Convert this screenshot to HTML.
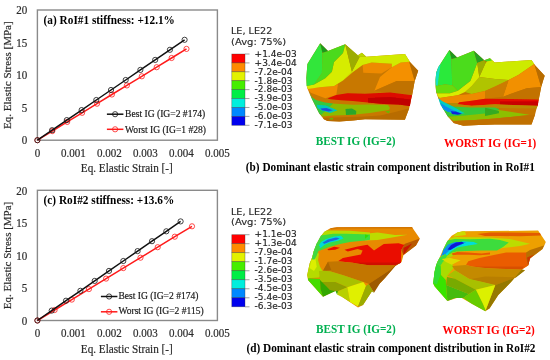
<!DOCTYPE html>
<html><head><meta charset="utf-8"><style>
html,body{margin:0;padding:0;background:#fff;}
svg{display:block;}
.tk{font-family:"Liberation Serif",serif;font-size:12.4px;fill:#2b2b2b;stroke:#2b2b2b;stroke-width:0.2px;}
.al{font-family:"Liberation Serif",serif;font-size:11px;fill:#2b2b2b;stroke:#2b2b2b;stroke-width:0.2px;}
.al2{font-family:"Liberation Serif",serif;font-size:12.4px;fill:#2b2b2b;stroke:#2b2b2b;stroke-width:0.2px;}
.ti{font-family:"Liberation Serif",serif;font-size:12.4px;font-weight:bold;fill:#000;}
.lg{font-family:"Liberation Serif",serif;font-size:10.3px;fill:#1a1a1a;stroke:#1a1a1a;stroke-width:0.2px;}
.cb{font-family:"DejaVu Sans",sans-serif;font-size:9.2px;fill:#2a2a2a;stroke:#2a2a2a;stroke-width:0.15px;}
.cbl{font-family:"DejaVu Sans",sans-serif;font-size:9px;fill:#222;stroke:#222;stroke-width:0.15px;}
.bg{font-family:"Liberation Serif",serif;font-size:12.4px;font-weight:bold;fill:#00b050;}
.wr{font-family:"Liberation Serif",serif;font-size:12.4px;font-weight:bold;fill:#ff0000;}
.cp{font-family:"Liberation Serif",serif;font-size:12.4px;font-weight:bold;fill:#000;}
</style></head><body>
<svg width="550" height="360" viewBox="0 0 550 360">
<rect width="550" height="360" fill="#fff"/>
<rect x="37.4" y="10.0" width="180.0" height="130.2" fill="none" stroke="#8a8a8a" stroke-width="1.4"/>
<text transform="translate(27.20,144.40) scale(0.89,1)" text-anchor="end" class="tk">0</text>
<text transform="translate(27.20,111.85) scale(0.89,1)" text-anchor="end" class="tk">5</text>
<text transform="translate(27.20,79.30) scale(0.89,1)" text-anchor="end" class="tk">10</text>
<text transform="translate(27.20,46.75) scale(0.89,1)" text-anchor="end" class="tk">15</text>
<text transform="translate(27.20,14.20) scale(0.89,1)" text-anchor="end" class="tk">20</text>
<text transform="translate(37.40,157.00) scale(0.89,1)" text-anchor="middle" class="tk">0</text>
<text transform="translate(73.40,157.00) scale(0.89,1)" text-anchor="middle" class="tk">0.001</text>
<text transform="translate(109.40,157.00) scale(0.89,1)" text-anchor="middle" class="tk">0.002</text>
<text transform="translate(145.40,157.00) scale(0.89,1)" text-anchor="middle" class="tk">0.003</text>
<text transform="translate(181.40,157.00) scale(0.89,1)" text-anchor="middle" class="tk">0.004</text>
<text transform="translate(217.40,157.00) scale(0.89,1)" text-anchor="middle" class="tk">0.005</text>
<text transform="translate(11.1,75.2) rotate(-90)" text-anchor="middle" class="al">Eq. Elastic Stress [MPa]</text>
<text transform="translate(126.80,172.40) scale(0.903,1)" text-anchor="middle" class="al2">Eq. Elastic Strain [-]</text>
<text transform="translate(43.60,24.00) scale(0.911,1)" class="ti">(a) RoI#1 stiffness: +12.1%</text>
<polyline points="37.4,140.2 52.3,131.1 67.2,121.9 82.1,112.8 97.0,103.7 111.9,94.5 126.9,85.4 141.8,76.3 156.7,67.2 171.6,58.0 186.5,48.9" fill="none" stroke="#ff1a1a" stroke-width="1.5"/>
<circle cx="37.4" cy="140.2" r="2.6" fill="none" stroke="#ff1a1a" stroke-width="0.8"/>
<circle cx="52.3" cy="131.1" r="2.6" fill="none" stroke="#ff1a1a" stroke-width="0.8"/>
<circle cx="67.2" cy="121.9" r="2.6" fill="none" stroke="#ff1a1a" stroke-width="0.8"/>
<circle cx="82.1" cy="112.8" r="2.6" fill="none" stroke="#ff1a1a" stroke-width="0.8"/>
<circle cx="97.0" cy="103.7" r="2.6" fill="none" stroke="#ff1a1a" stroke-width="0.8"/>
<circle cx="111.9" cy="94.5" r="2.6" fill="none" stroke="#ff1a1a" stroke-width="0.8"/>
<circle cx="126.9" cy="85.4" r="2.6" fill="none" stroke="#ff1a1a" stroke-width="0.8"/>
<circle cx="141.8" cy="76.3" r="2.6" fill="none" stroke="#ff1a1a" stroke-width="0.8"/>
<circle cx="156.7" cy="67.2" r="2.6" fill="none" stroke="#ff1a1a" stroke-width="0.8"/>
<circle cx="171.6" cy="58.0" r="2.6" fill="none" stroke="#ff1a1a" stroke-width="0.8"/>
<circle cx="186.5" cy="48.9" r="2.6" fill="none" stroke="#ff1a1a" stroke-width="0.8"/>
<polyline points="37.4,140.2 52.1,130.2 66.8,120.1 81.6,110.1 96.3,100.0 111.0,90.0 125.7,80.0 140.4,69.9 155.2,59.9 169.9,49.8 184.6,39.8" fill="none" stroke="#111" stroke-width="1.5"/>
<circle cx="37.4" cy="140.2" r="2.6" fill="none" stroke="#111" stroke-width="0.8"/>
<circle cx="52.1" cy="130.2" r="2.6" fill="none" stroke="#111" stroke-width="0.8"/>
<circle cx="66.8" cy="120.1" r="2.6" fill="none" stroke="#111" stroke-width="0.8"/>
<circle cx="81.6" cy="110.1" r="2.6" fill="none" stroke="#111" stroke-width="0.8"/>
<circle cx="96.3" cy="100.0" r="2.6" fill="none" stroke="#111" stroke-width="0.8"/>
<circle cx="111.0" cy="90.0" r="2.6" fill="none" stroke="#111" stroke-width="0.8"/>
<circle cx="125.7" cy="80.0" r="2.6" fill="none" stroke="#111" stroke-width="0.8"/>
<circle cx="140.4" cy="69.9" r="2.6" fill="none" stroke="#111" stroke-width="0.8"/>
<circle cx="155.2" cy="59.9" r="2.6" fill="none" stroke="#111" stroke-width="0.8"/>
<circle cx="169.9" cy="49.8" r="2.6" fill="none" stroke="#111" stroke-width="0.8"/>
<circle cx="184.6" cy="39.8" r="2.6" fill="none" stroke="#111" stroke-width="0.8"/>
<line x1="106.9" y1="114.2" x2="123.4" y2="114.2" stroke="#111" stroke-width="1.5"/>
<circle cx="115.10000000000001" cy="114.2" r="2.6" fill="none" stroke="#111" stroke-width="0.8"/>
<line x1="106.9" y1="129.3" x2="123.4" y2="129.3" stroke="#ff1a1a" stroke-width="1.5"/>
<circle cx="115.10000000000001" cy="129.3" r="2.6" fill="none" stroke="#ff1a1a" stroke-width="0.8"/>
<text transform="translate(125.10,117.20) scale(0.93,1)" class="lg">Best IG (IG=2 #174)</text>
<text transform="translate(125.10,132.80) scale(0.93,1)" class="lg">Worst IG (IG=1 #28)</text>
<rect x="37.4" y="190.3" width="180.0" height="130.2" fill="none" stroke="#8a8a8a" stroke-width="1.4"/>
<text transform="translate(27.20,324.70) scale(0.89,1)" text-anchor="end" class="tk">0</text>
<text transform="translate(27.20,292.15) scale(0.89,1)" text-anchor="end" class="tk">5</text>
<text transform="translate(27.20,259.60) scale(0.89,1)" text-anchor="end" class="tk">10</text>
<text transform="translate(27.20,227.05) scale(0.89,1)" text-anchor="end" class="tk">15</text>
<text transform="translate(27.20,194.50) scale(0.89,1)" text-anchor="end" class="tk">20</text>
<text transform="translate(37.40,337.30) scale(0.89,1)" text-anchor="middle" class="tk">0</text>
<text transform="translate(73.40,337.30) scale(0.89,1)" text-anchor="middle" class="tk">0.001</text>
<text transform="translate(109.40,337.30) scale(0.89,1)" text-anchor="middle" class="tk">0.002</text>
<text transform="translate(145.40,337.30) scale(0.89,1)" text-anchor="middle" class="tk">0.003</text>
<text transform="translate(181.40,337.30) scale(0.89,1)" text-anchor="middle" class="tk">0.004</text>
<text transform="translate(217.40,337.30) scale(0.89,1)" text-anchor="middle" class="tk">0.005</text>
<text transform="translate(11.1,255.5) rotate(-90)" text-anchor="middle" class="al">Eq. Elastic Stress [MPa]</text>
<text transform="translate(126.80,352.70) scale(0.903,1)" text-anchor="middle" class="al2">Eq. Elastic Strain [-]</text>
<text transform="translate(43.60,204.30) scale(0.911,1)" class="ti">(c) RoI#2 stiffness: +13.6%</text>
<polyline points="37.4,320.5 54.6,310.0 71.8,299.6 88.9,289.1 106.1,278.6 123.3,268.1 140.5,257.7 157.7,247.2 174.8,236.7 192.0,226.3" fill="none" stroke="#ff1a1a" stroke-width="1.5"/>
<circle cx="37.4" cy="320.5" r="2.6" fill="none" stroke="#ff1a1a" stroke-width="0.8"/>
<circle cx="54.6" cy="310.0" r="2.6" fill="none" stroke="#ff1a1a" stroke-width="0.8"/>
<circle cx="71.8" cy="299.6" r="2.6" fill="none" stroke="#ff1a1a" stroke-width="0.8"/>
<circle cx="88.9" cy="289.1" r="2.6" fill="none" stroke="#ff1a1a" stroke-width="0.8"/>
<circle cx="106.1" cy="278.6" r="2.6" fill="none" stroke="#ff1a1a" stroke-width="0.8"/>
<circle cx="123.3" cy="268.1" r="2.6" fill="none" stroke="#ff1a1a" stroke-width="0.8"/>
<circle cx="140.5" cy="257.7" r="2.6" fill="none" stroke="#ff1a1a" stroke-width="0.8"/>
<circle cx="157.7" cy="247.2" r="2.6" fill="none" stroke="#ff1a1a" stroke-width="0.8"/>
<circle cx="174.8" cy="236.7" r="2.6" fill="none" stroke="#ff1a1a" stroke-width="0.8"/>
<circle cx="192.0" cy="226.3" r="2.6" fill="none" stroke="#ff1a1a" stroke-width="0.8"/>
<polyline points="37.4,320.5 51.7,310.6 66.0,300.7 80.4,290.8 94.7,280.9 109.0,270.9 123.3,261.0 137.6,251.1 152.0,241.2 166.3,231.3 180.6,221.4" fill="none" stroke="#111" stroke-width="1.5"/>
<circle cx="37.4" cy="320.5" r="2.6" fill="none" stroke="#111" stroke-width="0.8"/>
<circle cx="51.7" cy="310.6" r="2.6" fill="none" stroke="#111" stroke-width="0.8"/>
<circle cx="66.0" cy="300.7" r="2.6" fill="none" stroke="#111" stroke-width="0.8"/>
<circle cx="80.4" cy="290.8" r="2.6" fill="none" stroke="#111" stroke-width="0.8"/>
<circle cx="94.7" cy="280.9" r="2.6" fill="none" stroke="#111" stroke-width="0.8"/>
<circle cx="109.0" cy="270.9" r="2.6" fill="none" stroke="#111" stroke-width="0.8"/>
<circle cx="123.3" cy="261.0" r="2.6" fill="none" stroke="#111" stroke-width="0.8"/>
<circle cx="137.6" cy="251.1" r="2.6" fill="none" stroke="#111" stroke-width="0.8"/>
<circle cx="152.0" cy="241.2" r="2.6" fill="none" stroke="#111" stroke-width="0.8"/>
<circle cx="166.3" cy="231.3" r="2.6" fill="none" stroke="#111" stroke-width="0.8"/>
<circle cx="180.6" cy="221.4" r="2.6" fill="none" stroke="#111" stroke-width="0.8"/>
<line x1="100.9" y1="296.5" x2="117.4" y2="296.5" stroke="#111" stroke-width="1.5"/>
<circle cx="109.10000000000001" cy="296.5" r="2.6" fill="none" stroke="#111" stroke-width="0.8"/>
<line x1="100.9" y1="311.8" x2="117.4" y2="311.8" stroke="#ff1a1a" stroke-width="1.5"/>
<circle cx="109.10000000000001" cy="311.8" r="2.6" fill="none" stroke="#ff1a1a" stroke-width="0.8"/>
<text transform="translate(118.40,299.20) scale(0.93,1)" class="lg">Best IG (IG=2 #174)</text>
<text transform="translate(118.40,314.30) scale(0.93,1)" class="lg">Worst IG (IG=2 #115)</text>
<text transform="translate(231.0,34.4) scale(1.08,1)" class="cb" style="font-size:8.95px">LE, LE22</text>
<text transform="translate(231.0,45.3) scale(1.06,1)" class="cb" style="font-size:9.45px">(Avg: 75%)</text>
<rect x="231.8" y="54.00" width="13.2" height="8.91" fill="#ff0000" stroke="#333" stroke-opacity="0.55" stroke-width="0.6"/>
<rect x="231.8" y="62.91" width="13.2" height="8.91" fill="#ff8a00" stroke="#333" stroke-opacity="0.55" stroke-width="0.6"/>
<rect x="231.8" y="71.83" width="13.2" height="8.91" fill="#e2f200" stroke="#333" stroke-opacity="0.55" stroke-width="0.6"/>
<rect x="231.8" y="80.74" width="13.2" height="8.91" fill="#46ee00" stroke="#333" stroke-opacity="0.55" stroke-width="0.6"/>
<rect x="231.8" y="89.65" width="13.2" height="8.91" fill="#00ee46" stroke="#333" stroke-opacity="0.55" stroke-width="0.6"/>
<rect x="231.8" y="98.56" width="13.2" height="8.91" fill="#00eedd" stroke="#333" stroke-opacity="0.55" stroke-width="0.6"/>
<rect x="231.8" y="107.47" width="13.2" height="8.91" fill="#0088ff" stroke="#333" stroke-opacity="0.55" stroke-width="0.6"/>
<rect x="231.8" y="116.39" width="13.2" height="8.91" fill="#0000ee" stroke="#333" stroke-opacity="0.55" stroke-width="0.6"/>
<line x1="245" y1="54.00" x2="249.5" y2="54.00" stroke="#888" stroke-width="0.8"/>
<text x="254.6" y="56.80" class="cbl">+1.4e-03</text>
<line x1="245" y1="62.91" x2="249.5" y2="62.91" stroke="#888" stroke-width="0.8"/>
<text x="254.6" y="65.71" class="cbl">+3.4e-04</text>
<line x1="245" y1="71.83" x2="249.5" y2="71.83" stroke="#888" stroke-width="0.8"/>
<text x="254.6" y="74.62" class="cbl">-7.2e-04</text>
<line x1="245" y1="80.74" x2="249.5" y2="80.74" stroke="#888" stroke-width="0.8"/>
<text x="254.6" y="83.54" class="cbl">-1.8e-03</text>
<line x1="245" y1="89.65" x2="249.5" y2="89.65" stroke="#888" stroke-width="0.8"/>
<text x="254.6" y="92.45" class="cbl">-2.8e-03</text>
<line x1="245" y1="98.56" x2="249.5" y2="98.56" stroke="#888" stroke-width="0.8"/>
<text x="254.6" y="101.36" class="cbl">-3.9e-03</text>
<line x1="245" y1="107.47" x2="249.5" y2="107.47" stroke="#888" stroke-width="0.8"/>
<text x="254.6" y="110.27" class="cbl">-5.0e-03</text>
<line x1="245" y1="116.39" x2="249.5" y2="116.39" stroke="#888" stroke-width="0.8"/>
<text x="254.6" y="119.19" class="cbl">-6.0e-03</text>
<line x1="245" y1="125.30" x2="249.5" y2="125.30" stroke="#888" stroke-width="0.8"/>
<text x="254.6" y="128.10" class="cbl">-7.1e-03</text>
<text transform="translate(231.0,214.6) scale(1.08,1)" class="cb" style="font-size:8.95px">LE, LE22</text>
<text transform="translate(231.0,225.0) scale(1.06,1)" class="cb" style="font-size:9.45px">(Avg: 75%)</text>
<rect x="231.8" y="234.70" width="13.2" height="9.01" fill="#ff0000" stroke="#333" stroke-opacity="0.55" stroke-width="0.6"/>
<rect x="231.8" y="243.71" width="13.2" height="9.01" fill="#ff8a00" stroke="#333" stroke-opacity="0.55" stroke-width="0.6"/>
<rect x="231.8" y="252.72" width="13.2" height="9.01" fill="#e2f200" stroke="#333" stroke-opacity="0.55" stroke-width="0.6"/>
<rect x="231.8" y="261.74" width="13.2" height="9.01" fill="#46ee00" stroke="#333" stroke-opacity="0.55" stroke-width="0.6"/>
<rect x="231.8" y="270.75" width="13.2" height="9.01" fill="#00ee46" stroke="#333" stroke-opacity="0.55" stroke-width="0.6"/>
<rect x="231.8" y="279.76" width="13.2" height="9.01" fill="#00eedd" stroke="#333" stroke-opacity="0.55" stroke-width="0.6"/>
<rect x="231.8" y="288.77" width="13.2" height="9.01" fill="#0088ff" stroke="#333" stroke-opacity="0.55" stroke-width="0.6"/>
<rect x="231.8" y="297.79" width="13.2" height="9.01" fill="#0000ee" stroke="#333" stroke-opacity="0.55" stroke-width="0.6"/>
<line x1="245" y1="234.70" x2="249.5" y2="234.70" stroke="#888" stroke-width="0.8"/>
<text x="254.6" y="236.60" class="cbl">+1.1e-03</text>
<line x1="245" y1="243.71" x2="249.5" y2="243.71" stroke="#888" stroke-width="0.8"/>
<text x="254.6" y="245.61" class="cbl">+1.3e-04</text>
<line x1="245" y1="252.72" x2="249.5" y2="252.72" stroke="#888" stroke-width="0.8"/>
<text x="254.6" y="254.62" class="cbl">-7.9e-04</text>
<line x1="245" y1="261.74" x2="249.5" y2="261.74" stroke="#888" stroke-width="0.8"/>
<text x="254.6" y="263.64" class="cbl">-1.7e-03</text>
<line x1="245" y1="270.75" x2="249.5" y2="270.75" stroke="#888" stroke-width="0.8"/>
<text x="254.6" y="272.65" class="cbl">-2.6e-03</text>
<line x1="245" y1="279.76" x2="249.5" y2="279.76" stroke="#888" stroke-width="0.8"/>
<text x="254.6" y="281.66" class="cbl">-3.5e-03</text>
<line x1="245" y1="288.77" x2="249.5" y2="288.77" stroke="#888" stroke-width="0.8"/>
<text x="254.6" y="290.67" class="cbl">-4.5e-03</text>
<line x1="245" y1="297.79" x2="249.5" y2="297.79" stroke="#888" stroke-width="0.8"/>
<text x="254.6" y="299.69" class="cbl">-5.4e-03</text>
<line x1="245" y1="306.80" x2="249.5" y2="306.80" stroke="#888" stroke-width="0.8"/>
<text x="254.6" y="308.70" class="cbl">-6.3e-03</text>
<defs><filter id="sf" x="-5%" y="-5%" width="110%" height="110%"><feGaussianBlur stdDeviation="0.35"/></filter></defs>
<g filter="url(#sf)">
<polygon points="320.2,43.3 328.0,51.1 345.2,44.2 357.6,55.4 361.9,52.8 366.3,56.7 405.0,54.0 409.9,61.7 418.2,70.7 414.7,81.1 412.1,95.2 409.2,108.2 404.9,119.8 365.0,119.3 353.0,120.6 339.4,121.5 327.5,121.1 323.9,119.3 319.4,113.8 315.7,106.5 312.1,99.3 308.9,92.0 306.8,86.0 306.3,78.0 307.4,63.9" fill="#c87800"/>
<polygon points="307.0,88.5 319.7,87.2 334.1,86.1 338.0,84.0 336.3,95.0 325.2,98.3 310.8,92.8" fill="#f08c00"/>
<polygon points="362.6,65.1 371.7,62.4 391.8,63.8 391.8,67.2 381.4,73.5 363.3,72.8" fill="#ee8a00"/>
<polygon points="391.8,67.2 400.8,62.4 409.2,61.7 414.7,81.1 396.7,81.1 374.4,90.8 380.0,77.0" fill="#f49000"/>
<polygon points="409.2,61.7 418.2,70.7 414.7,81.1" fill="#b46a00"/>
<polygon points="374.4,90.8 396.7,81.1 414.7,81.1 412.1,95.2 390.0,93.0" fill="#c07200"/>
<polygon points="366.3,56.7 405.0,54.0 409.9,61.7 409.2,61.7 400.8,62.4 391.8,67.2 391.8,63.8 371.7,62.4 362.6,65.1 353.0,72.0 343.0,80.6 351.9,71.7 359.7,56.7" fill="#d2ea00"/>
<polygon points="343.0,53.0 345.2,44.2 351.9,71.7 343.0,80.6 334.1,86.1 319.7,87.2 308.0,88.9 306.6,86.1 314.1,84.4 325.2,78.3 331.9,71.7 334.0,62.0" fill="#d6ec00"/>
<polygon points="345.2,44.2 359.7,56.7 351.9,71.7" fill="#9cac00"/>
<polygon points="357.6,55.4 361.9,52.8 366.3,56.7 359.7,56.7" fill="#b8d800"/>
<polygon points="322.4,52.8 328.0,51.1 345.2,44.2 343.0,53.0 334.0,62.0 331.9,71.7 325.2,78.3 314.1,84.4 318.5,78.0 321.9,73.3" fill="#4cda1c"/>
<polygon points="320.2,43.3 322.4,52.8 321.9,73.3 318.5,78.0 314.1,84.4 306.6,86.1 306.3,78.0 307.4,63.9" fill="#30e63a"/>
<polygon points="320.2,43.3 328.0,51.1 322.4,52.8" fill="#1f9a1f"/>
<polygon points="327.5,98.4 336.3,95.0 347.4,93.3 365.0,93.8 390.0,92.5 412.1,95.2 410.5,101.5 409.9,106.1 398.4,104.6 383.9,103.9 368.0,102.5 353.0,101.1 341.2,100.2 330.3,99.3" fill="#dd0a00"/>
<polygon points="368.0,98.0 390.0,97.0 410.8,99.5 409.9,106.1 398.4,104.6 383.9,103.9 368.0,102.5" fill="#c00000"/>
<polygon points="309.0,92.5 312.0,97.3 316.0,100.0 325.0,102.5 333.0,103.5 333.0,114.3 322.0,115.5 319.4,113.8 315.7,106.5 312.1,99.3 308.9,92.0" fill="#34c83c"/>
<polygon points="333.0,103.5 340.0,104.0 353.0,104.7 370.0,104.5 388.0,105.0 390.0,108.0 388.7,110.0 370.0,113.0 350.0,115.0 333.0,115.5 322.0,116.5 321.0,115.0" fill="#8cbb00"/>
<polygon points="345.5,109.0 352.0,108.5 356.3,111.0 356.0,114.5 346.0,115.0" fill="#2aa62a"/>
<polygon points="385.0,111.5 390.0,110.5 389.0,113.5" fill="#66bb00"/>
<polygon points="316.6,104.7 325.7,105.6 337.5,110.2 330.3,112.9 321.2,110.2 317.5,108.0" fill="#00c8b8"/>
<polygon points="320.3,108.4 326.6,107.9 333.0,110.2 328.5,111.5 322.1,110.2" fill="#1e50e0"/>
<polygon points="323.0,117.8 340.0,117.3 365.0,116.5 380.0,115.5 395.0,112.0 409.2,108.2 404.9,119.8 365.0,119.3 353.0,120.6 339.4,121.5 327.5,121.1 323.9,119.3" fill="#b86c00"/>
<polygon points="329.4,118.4 333.0,117.8 333.0,119.5 329.4,119.6" fill="#66bb00"/>
</g>
<g filter="url(#sf)">
<polygon points="449.4,49.9 457.1,57.5 473.8,50.8 484.2,60.3 489.9,58.3 494.7,62.5 531.5,60.0 535.0,65.3 544.7,75.7 543.3,80.0 541.2,86.9 538.5,100.8 535.0,114.7 531.5,124.4 495.0,124.4 478.6,125.1 463.3,125.8 453.6,123.0 448.0,116.8 442.5,107.8 438.3,98.0 436.2,92.5 435.6,86.7 435.6,80.0 436.2,72.8 438.3,67.2" fill="#c47400"/>
<polygon points="485.6,63.1 489.9,58.3 494.7,62.5 531.5,60.0 534.3,63.9 518.3,75.0 508.6,79.9 495.0,79.0 479.3,77.0" fill="#cdea00"/>
<polygon points="479.3,77.0 495.0,79.0 508.6,79.9 495.0,87.0 485.0,91.1 471.7,94.0 465.0,92.0 471.7,86.0" fill="#b0c400"/>
<polygon points="508.6,79.9 518.3,75.0 534.3,63.9 541.2,87.0 526.7,88.2 503.0,96.7" fill="#f29000"/>
<polygon points="534.3,63.9 535.0,65.3 544.7,75.7 543.3,80.0 541.2,87.0" fill="#b86c00"/>
<polygon points="485.0,91.1 508.6,79.9 503.0,96.7 485.0,98.8" fill="#cc7c00"/>
<polygon points="437.0,93.2 450.0,93.2 457.8,90.8 470.3,81.1 473.0,74.2 477.2,63.1 479.3,77.0 471.7,86.0 465.0,92.0 457.8,95.3 439.7,98.0 437.5,96.0" fill="#d8ec00"/>
<polygon points="451.5,58.9 457.1,57.5 473.8,50.8 477.2,63.1 473.0,74.2 470.3,81.1 457.8,90.8 452.2,85.3" fill="#4cdc1c"/>
<polygon points="449.4,49.9 451.5,58.9 452.2,85.3 445.0,84.5 435.7,86.0 435.6,80.0 436.2,72.8 438.3,67.2" fill="#2aea3a"/>
<polygon points="435.7,86.0 445.0,84.5 452.2,85.3 457.8,90.8 450.0,93.2 437.0,93.2 436.2,92.5" fill="#66dc10"/>
<polygon points="438.3,67.2 440.5,64.0 439.0,75.0 437.5,86.0 435.8,85.0 435.6,80.0 436.2,72.8" fill="#18e0c0"/>
<polygon points="449.4,49.9 457.1,57.5 451.5,58.9" fill="#1f9a1f"/>
<polygon points="473.8,50.8 484.2,60.3 477.2,63.1" fill="#26a020"/>
<polygon points="477.2,63.1 484.2,60.3 485.6,63.1 479.3,77.0" fill="#9cae00"/>
<polygon points="484.2,60.3 489.9,58.3 492.0,60.5 486.0,61.5" fill="#44d822"/>
<polygon points="438.3,98.0 439.7,98.0 457.8,95.3 471.7,94.0 485.0,91.1 485.0,98.8 471.7,100.8 457.8,102.9 442.5,102.9" fill="#ee8a00"/>
<polygon points="503.0,96.7 526.7,88.2 541.2,87.0 538.5,100.8 485.0,99.2" fill="#c27200"/>
<polygon points="459.2,102.2 471.7,100.8 485.0,98.8 510.0,99.0 538.5,99.4 537.8,105.7 512.8,105.0 495.0,104.3 471.7,105.7 457.8,104.3" fill="#e40c00"/>
<polygon points="500.0,101.5 538.3,101.5 537.8,105.7 512.8,105.0 500.0,104.5" fill="#c80000"/>
<polygon points="442.5,102.9 457.8,102.9 457.8,104.3 471.7,105.7 495.0,104.3 512.8,105.0 537.8,105.7 536.5,108.5 495.0,108.0 445.0,108.0" fill="#b88a00"/>
<polygon points="440.5,103.0 445.0,106.0 470.0,107.5 495.0,107.5 498.9,109.0 498.9,113.3 480.0,115.5 460.0,116.5 448.0,116.8 442.5,107.8" fill="#38c838"/>
<polygon points="438.3,98.0 442.0,101.0 452.0,106.0 464.7,113.3 455.0,114.7 444.0,110.0 440.5,105.0" fill="#00ccc4"/>
<polygon points="440.5,103.0 446.0,106.5 452.0,109.5 456.0,111.5 448.0,112.0 443.0,108.5" fill="#0a88ee"/>
<polygon points="450.8,111.3 456.0,111.5 462.0,113.7 458.0,114.7 452.0,114.0" fill="#0a24dc"/>
<polygon points="448.0,116.8 465.0,115.5 485.0,113.5 499.0,110.0 515.0,112.5 529.4,114.7 515.0,116.5 495.0,118.5 475.0,120.0 453.6,121.0" fill="#8cc000"/>
<polygon points="485.0,107.8 498.9,111.0 498.9,113.3 485.0,116.0" fill="#34aa22"/>
<polygon points="453.6,121.0 475.0,120.0 495.0,118.5 515.0,116.5 535.0,114.7 531.5,124.4 495.0,124.4 478.6,125.1 463.3,125.8 453.6,123.0" fill="#c07000"/>
</g>
<g filter="url(#sf)">
<polygon points="330.3,228.3 337.1,227.3 411.9,226.9 419.8,238.5 416.0,245.5 403.5,255.0 401.6,262.0 395.3,266.0 385.0,278.0 380.0,283.2 371.8,291.6 363.0,305.0 358.0,307.5 343.0,297.5 335.5,290.8 323.0,296.7 308.0,280.0 307.2,275.0 309.7,263.3 312.3,257.0 313.7,251.2 316.7,243.4 320.5,236.6 324.4,231.7" fill="#e88a00"/>
<polygon points="330.3,228.3 337.1,227.3 411.9,226.9 413.0,228.6 338.5,228.6 331.0,229.6" fill="#d27400"/>
<polygon points="365.0,233.8 377.5,232.5 395.0,235.0 407.5,234.8 395.0,236.9 377.5,240.0 365.0,240.6" fill="#bcdc00"/>
<polygon points="324.4,231.7 327.0,230.5 334.0,230.5 350.0,230.8 370.0,232.5 370.0,235.0 346.0,234.2 333.0,234.2 321.0,236.0" fill="#b4dc00"/>
<polygon points="321.0,235.6 333.0,233.8 346.0,233.8 370.0,234.6 370.0,239.8 365.0,240.6 350.0,242.0 340.0,244.0 329.3,247.0 320.0,250.5 313.7,251.5 316.7,243.4 320.5,236.6" fill="#3cdc40"/>
<polygon points="365.0,234.4 368.8,235.6 365.0,238.8" fill="#33dd00"/>
<polygon points="317.5,247.5 321.0,242.0 326.0,239.0 334.2,236.4 341.0,235.8 343.5,238.5 338.0,240.8 330.0,242.5 324.4,245.0 320.5,248.0" fill="#00dcd4"/>
<polygon points="322.5,242.8 328.0,239.6 336.0,237.6 339.5,238.2 337.0,239.8 330.0,241.5 324.5,243.8" fill="#1a66dc"/>
<polygon points="344.5,249.7 357.6,246.5 367.5,244.8 374.0,250.5 383.8,244.0 398.6,243.2 403.5,244.8 405.0,243.8 401.2,250.0 401.0,262.8 395.3,265.3 369.1,265.3 352.7,262.8 338.0,261.2 342.9,257.9 360.9,254.6 362.6,250.5 357.6,248.9 347.8,251.4" fill="#ea0c00"/>
<polygon points="327.4,249.2 334.2,246.8 340.0,247.8 335.1,249.7 328.5,250.2" fill="#ea0c00"/>
<polygon points="352.7,262.8 369.1,262.5 395.3,262.5 401.0,262.8 395.3,265.3 369.1,265.3" fill="#d00800"/>
<polygon points="405.0,243.8 419.8,238.5 416.0,245.5 403.5,255.0 401.2,250.0" fill="#b85a00"/>
<polygon points="403.5,248.0 412.0,243.5 403.5,255.0" fill="#c81400"/>
<polygon points="312.3,257.0 313.7,251.2 316.0,250.0 319.0,254.0 318.0,260.0 320.0,266.7 323.0,271.7 319.0,277.5 308.0,278.3 307.2,275.0 309.7,263.3" fill="#b4dc00"/>
<polygon points="312.0,258.0 315.5,259.0 316.7,266.7 314.0,271.0 309.5,268.0" fill="#dcee00"/>
<polygon points="311.8,259.5 312.3,257.0 313.7,251.2 316.7,243.4 320.0,246.5 318.5,251.0 316.5,256.0 314.5,259.5" fill="#40d840"/>
<polygon points="323.0,270.8 328.0,261.7 338.0,261.2 352.7,262.8 369.1,265.3 395.3,265.3 390.0,270.0 368.7,284.0 363.3,282.0 343.3,275.3 330.0,271.3" fill="#c27600"/>
<polygon points="323.0,270.8 328.0,261.7 331.3,270.0" fill="#ad6600"/>
<polygon points="368.7,284.0 390.0,270.0 395.3,265.3 401.6,262.0 395.3,266.0 385.0,278.0 380.0,283.2 374.0,292.7" fill="#9e5a00"/>
<polygon points="363.3,282.0 368.7,284.0 366.0,286.0" fill="#f08a00"/>
<polygon points="319.0,271.0 323.0,270.8 330.0,271.3 343.3,275.3 363.3,282.0 347.3,287.3 335.3,282.0 320.0,282.0" fill="#a8c000"/>
<polygon points="320.0,282.0 335.3,282.0 347.3,287.3 338.0,291.3 330.0,290.0" fill="#8fa000"/>
<polygon points="338.0,291.3 347.3,287.3 350.0,302.0 343.0,297.5 337.0,294.5" fill="#b8d000"/>
<polygon points="347.3,287.3 363.3,282.0 366.0,286.0 358.0,306.5 350.0,302.0" fill="#e0f000"/>
<polygon points="366.0,286.0 368.7,284.0 374.0,292.7 371.8,291.6 363.0,305.0 358.0,306.5" fill="#9aac00"/>
<polygon points="308.0,278.3 320.0,279.0 320.5,289.2 323.0,296.7 308.0,280.0" fill="#44dc00"/>
<polygon points="320.0,280.0 330.0,290.0 338.0,291.3 337.0,294.5 335.5,291.0 323.0,296.7 320.5,289.2" fill="#30a800"/>
</g>
<g filter="url(#sf)">
<polygon points="457.2,232.4 462.8,231.3 538.1,230.6 545.8,242.0 542.5,249.0 530.0,258.5 528.1,265.5 521.8,269.5 511.5,281.5 506.5,286.7 498.3,295.1 489.5,308.5 485.4,311.2 469.6,302.5 460.0,297.0 447.4,300.9 434.7,286.6 433.2,283.5 434.5,272.0 436.3,264.5 439.4,258.0 442.8,250.2 447.2,241.3 451.7,235.8" fill="#eda000"/>
<polygon points="457.2,232.4 462.8,231.3 465.0,231.3 466.0,235.0 458.0,236.0 453.0,236.5" fill="#ccdc00"/>
<polygon points="477.2,234.1 490.0,232.6 508.8,232.5 540.0,233.0 541.0,235.5 520.0,236.3 500.0,236.0 485.0,236.0" fill="#e25a00"/>
<polygon points="449.5,238.5 455.0,236.9 470.0,237.3 490.0,237.5 510.0,239.0 530.0,243.8 520.0,246.0 503.0,248.0 490.0,250.0 470.0,249.0 455.0,249.0" fill="#bcdc00"/>
<polygon points="448.3,240.2 455.0,239.0 470.0,239.3 490.0,238.8 500.0,240.0 508.8,242.5 503.0,247.0 497.0,250.5 480.6,250.5 466.7,251.0 457.0,251.5 452.8,252.5 446.0,256.5 443.0,258.0 442.8,250.2 447.2,241.3" fill="#3cdc3c"/>
<polygon points="443.5,256.0 446.0,250.5 452.0,245.0 462.8,241.3 473.9,241.9 478.0,244.0 468.3,245.5 457.2,247.5 450.0,252.0 445.0,258.0" fill="#00dcdc"/>
<polygon points="441.0,256.0 443.5,250.0 448.0,244.5 455.0,242.0 466.1,241.9 460.6,244.7 451.0,249.0 446.0,253.5 442.5,258.0" fill="#0a8cee"/>
<polygon points="447.5,249.5 451.0,245.0 456.0,242.5 462.0,241.8 464.0,243.2 457.0,246.0 450.5,250.0" fill="#0a18d8"/>
<polygon points="439.4,258.0 442.8,255.8 445.0,254.0 447.0,256.0 443.0,262.0 440.5,266.0 436.3,264.5" fill="#40dc40"/>
<polygon points="441.0,259.0 446.0,256.5 452.8,252.5 457.0,251.5 457.0,254.5 452.8,256.0 446.0,259.5 442.0,262.0" fill="#aadc00"/>
<polygon points="451.7,253.6 457.2,251.9 468.3,252.4 481.7,253.6 490.0,252.5 490.0,254.5 479.4,255.2 468.3,254.7 457.2,254.7 452.8,255.2" fill="#e85a00"/>
<polygon points="468.3,261.3 479.4,258.0 495.0,254.7 506.2,252.5 526.2,252.5 530.0,252.5 528.1,265.5 521.8,269.5 500.0,268.8 485.0,268.0 472.0,266.5 466.0,265.0" fill="#ea5c00"/>
<polygon points="472.0,266.5 500.0,266.5 524.0,266.5 521.8,269.5 500.0,268.8 485.0,268.0" fill="#d85000"/>
<polygon points="526.2,252.5 530.0,250.0 543.8,245.6 545.8,242.0 542.5,249.0 530.0,258.5 528.1,265.5 526.2,258.8" fill="#b87000"/>
<polygon points="527.0,257.5 534.0,254.5 530.0,258.5 528.1,265.5" fill="#cc3800"/>
<polygon points="441.7,259.1 449.4,258.0 460.6,260.2 451.7,264.7 441.7,264.7" fill="#dcdc00"/>
<polygon points="437.0,262.0 442.7,255.0 450.0,258.0 453.7,267.7 447.4,275.6 445.8,271.0 440.0,268.0" fill="#a8dc00"/>
<polygon points="452.0,266.0 466.0,265.0 472.0,266.5 485.0,268.0 500.0,268.8 521.8,269.5 525.0,270.3 516.1,277.3 495.3,284.9 468.9,278.7 455.0,270.3" fill="#c48a00"/>
<polygon points="470.0,279.2 495.3,284.9 516.1,277.3 505.0,277.0 485.0,276.5" fill="#b87e00"/>
<polygon points="495.3,284.9 516.1,277.3 525.0,270.3 521.8,269.5 511.5,281.5 506.5,286.7 498.3,295.1 489.5,308.5 485.6,310.6" fill="#957800"/>
<polygon points="447.4,275.6 455.0,270.3 468.9,278.7 495.3,284.9 475.8,289.8 455.0,278.7" fill="#a8c000"/>
<polygon points="475.8,289.8 495.3,284.9 485.6,310.6 482.8,303.7" fill="#dcf000"/>
<polygon points="447.0,277.0 455.0,278.7 475.8,289.8 468.9,294.0 455.0,288.4 446.0,285.0" fill="#78aa00"/>
<polygon points="446.0,285.0 455.0,288.4 468.9,294.0 463.3,298.1 455.0,298.1 447.4,300.9" fill="#44bb11"/>
<polygon points="463.3,298.1 468.9,294.0 475.8,289.8 482.8,303.7 485.6,310.6 485.4,311.2 471.7,303.7" fill="#66cc00"/>
<polygon points="439.4,258.0 442.8,255.8 445.0,254.0 447.0,256.0 443.0,262.0 440.5,266.0 436.3,264.5" fill="#40dc40"/>
<polygon points="440.5,266.0 443.0,262.0 446.0,262.0 449.5,267.5 447.4,275.6 445.8,280.0 441.0,275.0" fill="#a8dc00"/>
<polygon points="441.7,259.1 449.4,258.0 458.0,260.2 451.7,264.7 446.0,262.0" fill="#dcdc00"/>
<polygon points="433.2,283.5 434.5,272.0 436.3,264.5 440.5,266.0 441.0,275.0 445.8,280.0 446.0,285.0 447.4,300.9 434.7,286.6" fill="#38e400"/>
<polygon points="434.5,272.0 436.3,264.5 440.5,266.0 441.0,273.0 437.0,284.0 433.2,283.5" fill="#33dd33"/>
</g>
<text transform="translate(315.8,145.1) scale(0.905,1)" class="bg">BEST IG (IG=2)</text>
<text transform="translate(444.0,146.7) scale(0.9,1)" class="wr">WORST IG (IG=1)</text>
<text transform="translate(245.8,170.9) scale(0.91,1)" class="cp">(b) Dominant elastic strain component distribution in RoI#1</text>
<text transform="translate(316.0,333.3) scale(0.905,1)" class="bg">BEST IG (IG=2)</text>
<text transform="translate(442.5,333.6) scale(0.9,1)" class="wr">WORST IG (IG=2)</text>
<text transform="translate(246.4,352.2) scale(0.91,1)" class="cp">(d) Dominant elastic strain component distribution in RoI#2</text>

</svg>
</body></html>
